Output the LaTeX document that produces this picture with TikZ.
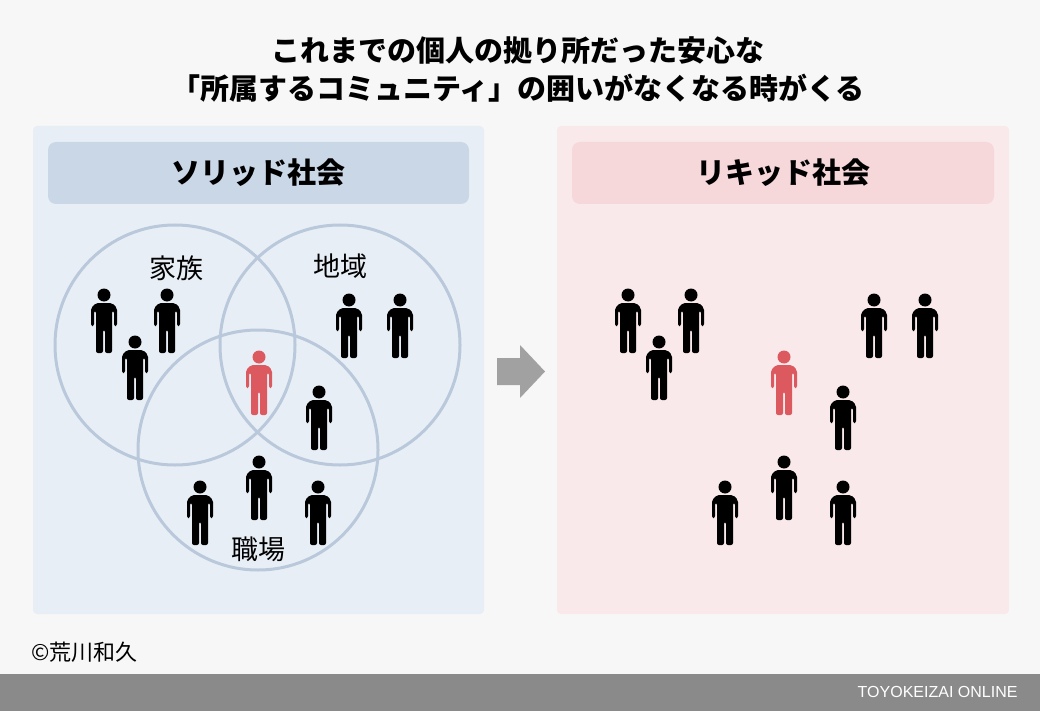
\documentclass[tikz,border=0pt]{standalone}
\usepackage{fontspec}
\newfontfamily\cjk{Noto Sans CJK JP}
\setsansfont{Liberation Sans}
\begin{document}
\begin{tikzpicture}[x=1pt,y=-1pt,
  person/.pic={
    \fill (0,7) circle (6.5);
    \fill[rounded corners=2] (-8,15) -- (8,15) -- (13,20) -- (13,38) -- (10,38) -- (10,23) -- (8,23) -- (8,65) -- (1,65) -- (1,42) -- (-1,42) -- (-1,65) -- (-8,65) -- (-8,23) -- (-10,23) -- (-10,38) -- (-13,38) -- (-13,20) -- cycle;
  },
  ring/.style={draw=ringc,line width=3},
  lab/.style={font=\cjk\fontsize{27}{27}\selectfont},
  head/.style={font=\cjk\bfseries\fontsize{29}{29}\selectfont}]
\definecolor{bg}{HTML}{F7F7F7}
\definecolor{lp}{HTML}{E8EEF5}
\definecolor{lh}{HTML}{C9D7E7}
\definecolor{rp}{HTML}{F9E9EA}
\definecolor{rh}{HTML}{F6D7DA}
\definecolor{ringc}{HTML}{B9C9DB}
\definecolor{redp}{HTML}{DC5A5F}
\definecolor{bar}{HTML}{8A8A8A}
\fill[bg] (0,0) rectangle (1040,711);
\useasboundingbox (0,0) rectangle (1040,711);
\node[font=\cjk\bfseries\fontsize{29}{38}\selectfont,align=center] (title) at (518,70) {これまでの個人の拠り所だった安心な\\「所属するコミュニティ」の囲いがなくなる時がくる};
\fill[lp,rounded corners=4] (33,126) rectangle (484,614);
\fill[rp,rounded corners=4] (557,126) rectangle (1009,614);
\fill[lh,rounded corners=8] (48,142) rectangle (469,204);
\fill[rh,rounded corners=8] (572,142) rectangle (994,204);
\node[head] (hl) at (258.5,173) {ソリッド社会};
\node[head] (hr) at (783,173) {リキッド社会};
\draw[ring] (175,345) circle (120);
\draw[ring] (340,345) circle (120);
\draw[ring] (258,450) circle (120);
\node[lab] (l1) at (176,268) {家族};
\node[lab] (l2) at (340,266) {地域};
\node[lab] (l3) at (258,549) {職場};
\foreach \x/\y in {104/288,167/288,135/335,349/293,400/293,319/385,259/455,200/480,318/480,
  628/288,691/288,659/335,874/293,925/293,843/385,784/455,725/480,843/480}
  \pic[black] at (\x,\y) {person};
\pic[redp] at (259,350) {person};
\pic[redp] at (784,350) {person};
\fill[bar!80] (497,358) -- (520,358) -- (520,345) -- (545,371.5) -- (520,398) -- (520,385) -- (497,385) -- cycle;
\node[font=\cjk\fontsize{22}{22}\selectfont,anchor=west] (cr) at (28,652) {©荒川和久};
\fill[bar] (0,674) rectangle (1040,711);
\node[font=\sffamily\fontsize{16}{16}\selectfont,text=white,anchor=east] (brand) at (1021,692) {TOYOKEIZAI ONLINE};
\end{tikzpicture}
\end{document}
